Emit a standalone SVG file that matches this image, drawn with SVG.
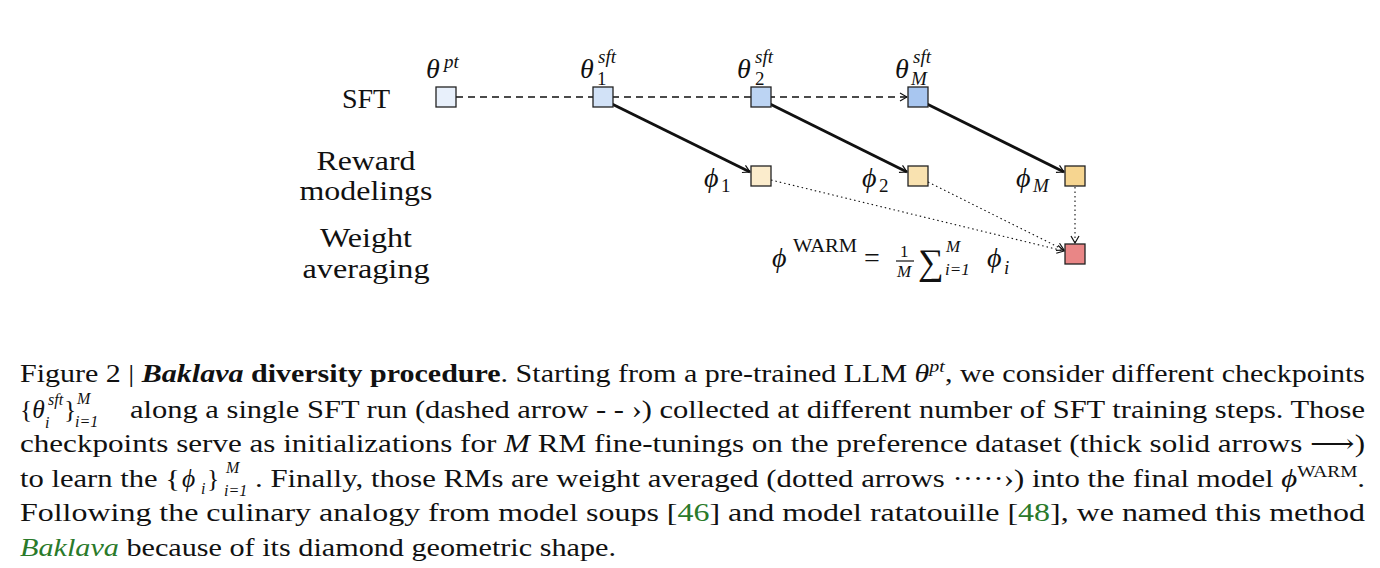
<svg xmlns="http://www.w3.org/2000/svg" width="1380" height="568" viewBox="0 0 1380 568">
<style>
text{font-family:"Liberation Serif","DejaVu Serif",serif;fill:#111}
.lab{font-size:28px;text-anchor:middle}
.m{font-style:italic;font-size:28px}
.s{font-style:italic;font-size:19px}
.cap{font-size:25.5px}
.b{stroke:#222;stroke-width:1.3}
.g{fill:#2a7a2a}
</style>
<defs>
<marker id="ah" markerWidth="10" markerHeight="10" refX="9" refY="5" orient="auto" markerUnits="userSpaceOnUse"><path d="M2,1 L9,5 L2,9" fill="none" stroke="#111" stroke-width="1.2"/></marker>
</defs>
<rect width="1380" height="568" fill="#fff"/>
<text class="lab" x="366" y="108">SFT</text>
<text class="lab" x="366" y="170" textLength="99" lengthAdjust="spacingAndGlyphs">Reward</text>
<text class="lab" x="366" y="200" textLength="133" lengthAdjust="spacingAndGlyphs">modelings</text>
<text class="lab" x="366" y="247" textLength="92" lengthAdjust="spacingAndGlyphs">Weight</text>
<text class="lab" x="366" y="278" textLength="127" lengthAdjust="spacingAndGlyphs">averaging</text>
<g id="connectors" fill="none" stroke="#111">
<line x1="456" y1="97" x2="907" y2="97" stroke-width="1.3" stroke-dasharray="7,5" marker-end="url(#ah)"/>
<line x1="612" y1="104" x2="750" y2="172" stroke-width="3" marker-end="url(#ah)"/>
<line x1="770" y1="104" x2="907" y2="172" stroke-width="3" marker-end="url(#ah)"/>
<line x1="927" y1="104" x2="1064" y2="172" stroke-width="3" marker-end="url(#ah)"/>
<line x1="771" y1="180" x2="1064" y2="251" stroke-width="1.1" stroke-dasharray="1.5,3" marker-end="url(#ah)"/>
<line x1="928" y1="182" x2="1064" y2="250" stroke-width="1.1" stroke-dasharray="1.5,3" marker-end="url(#ah)"/>
<line x1="1075" y1="187" x2="1075" y2="243" stroke-width="1.1" stroke-dasharray="1.5,3" marker-end="url(#ah)"/>
</g>
<g id="theta_pt"><rect class="b" x="436" y="87" width="20" height="20" fill="#e8f0fb"/><text class="m" x="426" y="78">θ</text><text class="s" x="444" y="68">pt</text></g>
<g id="theta1"><rect class="b" x="593" y="87" width="20" height="20" fill="#d2e2f7"/><text class="m" x="580" y="78">θ</text><text class="s" x="598" y="63">sft</text><text class="s" x="597" y="85" style="font-style:normal">1</text></g>
<g id="theta2"><rect class="b" x="751" y="87" width="20" height="20" fill="#bcd4f3"/><text class="m" x="737" y="78">θ</text><text class="s" x="755" y="63">sft</text><text class="s" x="755" y="85" style="font-style:normal">2</text></g>
<g id="thetaM"><rect class="b" x="908" y="87" width="20" height="20" fill="#a8c6f0"/><text class="m" x="895" y="78">θ</text><text class="s" x="913" y="63">sft</text><text class="s" x="911" y="85">M</text></g>
<g id="phi1"><rect class="b" x="751" y="166" width="20" height="20" fill="#fbeccc"/><text class="m" x="704" y="187">ϕ</text><text class="s" x="721" y="192" style="font-style:normal">1</text></g>
<g id="phi2"><rect class="b" x="908" y="166" width="20" height="20" fill="#f9e2b0"/><text class="m" x="862" y="187">ϕ</text><text class="s" x="879" y="192" style="font-style:normal">2</text></g>
<g id="phiM"><rect class="b" x="1065" y="166" width="20" height="20" fill="#f6d590"/><text class="m" x="1016" y="187">ϕ</text><text class="s" x="1033" y="192">M</text></g>
<g id="warm"><rect class="b" x="1065" y="244" width="20" height="20" fill="#e98686"/>
<text class="m" x="772" y="267">ϕ</text><text x="793" y="252" style="font-size:19px" textLength="64" lengthAdjust="spacingAndGlyphs">WARM</text><text x="864" y="267" style="font-size:28px">=</text>
<text x="900" y="257" style="font-size:17px">1</text><line x1="896" y1="261" x2="914" y2="261" stroke="#111" stroke-width="1.2"/><text class="s" x="897" y="277" style="font-size:17px">M</text>
<text x="918" y="274" style="font-size:36px">∑</text><text class="s" x="946" y="252" style="font-size:17px">M</text><text class="s" x="945" y="275" style="font-size:17px">i=1</text><text class="m" x="987" y="267">ϕ</text><text class="s" x="1004" y="274">i</text></g>
<g id="caption" class="cap">
<text class="cap" x="20" y="382" textLength="1345" lengthAdjust="spacingAndGlyphs">Figure 2 | <tspan font-weight="bold" font-style="italic">Baklava</tspan> <tspan font-weight="bold">diversity procedure</tspan>. Starting from a pre-trained LLM <tspan font-style="italic">θ</tspan><tspan font-style="italic" font-size="17" dy="-10">pt</tspan><tspan dy="10">, we consider different checkpoints</tspan></text>
<text class="cap" x="20" y="418">{<tspan font-style="italic">θ</tspan></text>
<text x="48" y="405" style="font-size:16px;font-style:italic">sft</text><text x="45" y="428" style="font-size:16px;font-style:italic">i</text>
<text x="64" y="418" class="cap">}</text><text x="77" y="404" style="font-size:16px;font-style:italic">M</text><text x="75" y="427" style="font-size:16px;font-style:italic">i=1</text>
<text class="cap" x="130" y="418" textLength="1235" lengthAdjust="spacingAndGlyphs">along a single SFT run (dashed arrow - - ›) collected at different number of SFT training steps. Those</text>
<text class="cap" x="20" y="452" textLength="1345" lengthAdjust="spacingAndGlyphs">checkpoints serve as initializations for <tspan font-style="italic">M</tspan> RM fine-tunings on the preference dataset (thick solid arrows ⟶)</text>
<text class="cap" x="20" y="487" textLength="160" lengthAdjust="spacingAndGlyphs">to learn the {</text>
<text class="cap" x="182" y="487" font-style="italic">ϕ</text><text x="201" y="494" style="font-size:16px;font-style:italic">i</text><text class="cap" x="207" y="487">}</text>
<text x="226" y="473" style="font-size:16px;font-style:italic">M</text><text x="224" y="496" style="font-size:16px;font-style:italic">i=1</text>
<text class="cap" x="255" y="487" textLength="1110" lengthAdjust="spacingAndGlyphs">. Finally, those RMs are weight averaged (dotted arrows ·····›) into the final model <tspan font-style="italic">ϕ</tspan><tspan font-size="16" dy="-10">WARM</tspan><tspan dy="10">.</tspan></text>
<text class="cap" x="20" y="521" textLength="1345" lengthAdjust="spacingAndGlyphs">Following the culinary analogy from model soups [<tspan class="g">46</tspan>] and model ratatouille [<tspan class="g">48</tspan>], we named this method</text>
<text class="cap" x="20" y="556" textLength="596" lengthAdjust="spacingAndGlyphs"><tspan class="g" font-style="italic">Baklava</tspan> because of its diamond geometric shape.</text>
</g>
</svg>
